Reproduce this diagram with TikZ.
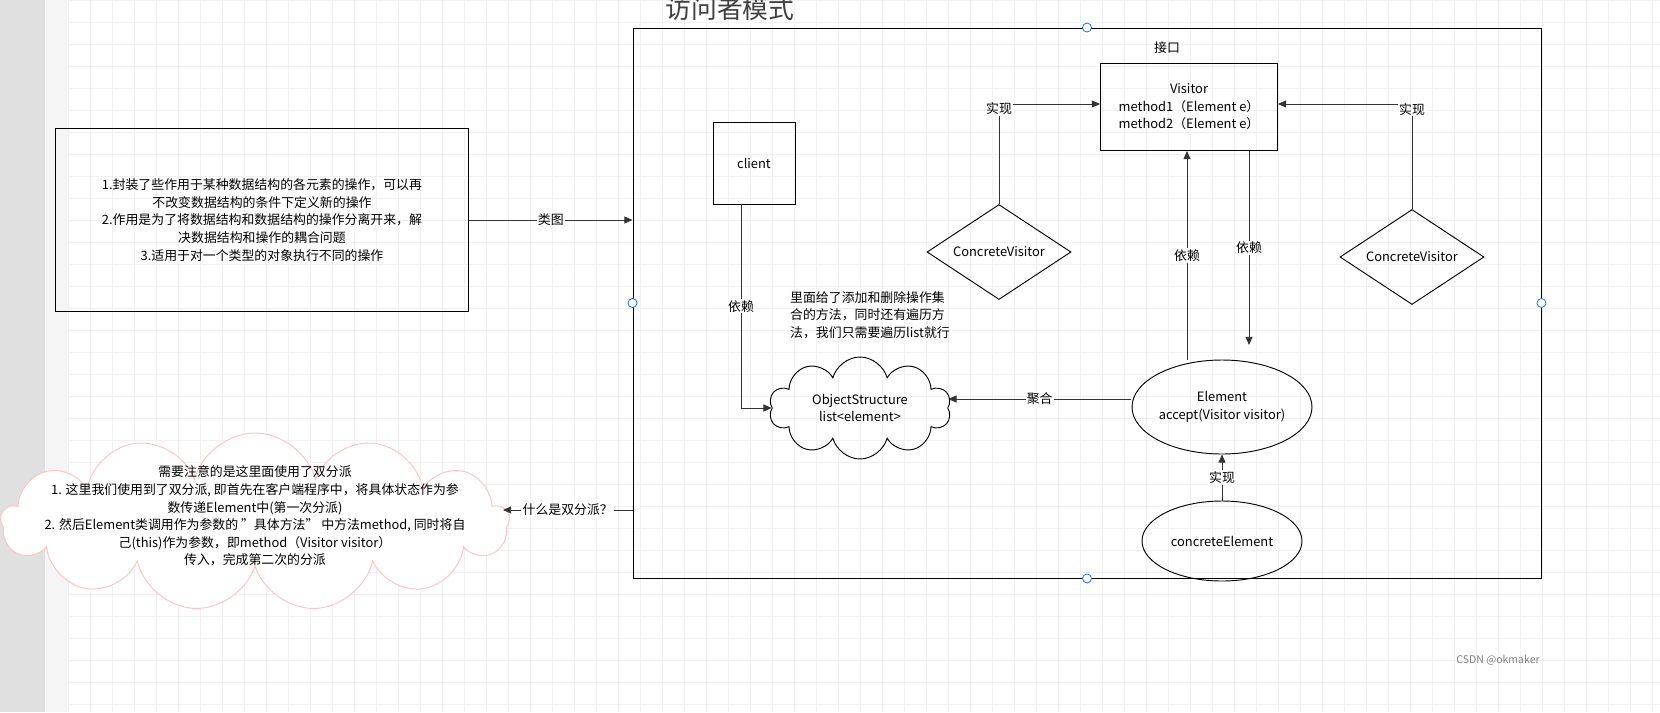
\documentclass[tikz,border=0pt]{standalone}
\usepackage{fontspec}
\setmainfont{Noto Sans CJK SC}
\usepackage{tikz}
\usetikzlibrary{arrows.meta}
\usetikzlibrary{shapes.geometric}
\usetikzlibrary{shapes.symbols}
\usetikzlibrary{positioning}
\usepackage{xcolor}

\begin{document}
\begin{tikzpicture}[x=0.015cm, y=-0.015cm, >={Triangle[length=3.5pt,width=3pt]}, font=\fontsize{5.5}{7.5}\selectfont, thick/.style={line width=0.4pt}]
\tikzset{box/.style = {draw=black, thick, rectangle, align=center, inner sep=0pt},
	diam/.style = {draw=black, thick, diamond, aspect=1.5, minimum width=144*0.015cm, minimum height=95*0.015cm, inner sep=0pt},
	elli/.style = {draw=black, thick, ellipse, align=center, inner sep=0pt},
	puff/.style = {cloud, cloud ignores aspect, thick, inner sep=0pt},
	lbl/.style = {fill=white, inner sep=0.5pt},
	dep/.style = {->, thick, draw=black!80}}

\fill[white] (0,0) rectangle (1660,712);
\foreach \gx in {68,90,...,1660} \draw[black!6, line width=0.2pt] (\gx,0) -- (\gx,712);
\foreach \gy in {0,22,...,712} \draw[black!6, line width=0.2pt] (68,\gy) -- (1660,\gy);
\fill[black!12] (0,0) rectangle (45,712);
\fill[black!4] (45,0) rectangle (68,712);
\node[font=\fontsize{11}{12}\selectfont, black!75] (T) at (730,9) {访问者模式};

\node[box, minimum width=908*0.015cm, minimum height=550*0.015cm] (S) at (1087,303) {};
\node[box, minimum width=413*0.015cm, minimum height=183*0.015cm] (L) at (262,220)
	{1.封装了些作用于某种数据结构的各元素的操作，可以再\\不改变数据结构的条件下定义新的操作\\2.作用是为了将数据结构和数据结构的操作分离开来，解\\决数据结构和操作的耦合问题\\3.适用于对一个类型的对象执行不同的操作};

\node[box, minimum width=177*0.015cm, minimum height=87*0.015cm, anchor=north] (V) at (1189,63)
	{Visitor\\method1（Element e）\\method2（Element e）};
\node (If) at (1167,48) {接口};
\node[box, minimum width=82*0.015cm, minimum height=82*0.015cm] (C) at (754,163) {client};
\node[diam] (CV1) at (999,252) {ConcreteVisitor};
\node[diam] (CV2) at (1412,257) {ConcreteVisitor};
\node[puff, draw=black, cloud puffs=10, minimum width=182*0.015cm, minimum height=102*0.015cm] (OS) at (860,408) {};
\node[align=center] (OSt) at (OS) {ObjectStructure\\list<element>};
\node[align=left] (N) at (870,315) {里面给了添加和删除操作集\\合的方法，同时还有遍历方\\法，我们只需要遍历list就行};
\node[elli, minimum width=180*0.015cm, minimum height=94*0.015cm] (E) at (1222,407) {Element\\accept(Visitor visitor)};
\node[elli, minimum width=160*0.015cm, minimum height=80*0.015cm] (CE) at (1222,541) {concreteElement};
\node[puff, draw=pink!80!red!60, fill=white, cloud puffs=13, minimum width=508*0.015cm, minimum height=178*0.015cm] (DD) at (255,522) {};
\node[align=center] (DDt) at (255,516)
	{需要注意的是这里面使用了双分派\\1. 这里我们使用到了双分派, 即首先在客户端程序中，将具体状态作为参\\数传递Element中(第一次分派)\\2. 然后Element类调用作为参数的 "具体方法" 中方法method, 同时将自\\己(this)作为参数，即method（Visitor visitor）\\传入，完成第二次的分派};

\coordinate (K1) at (999,104);
\coordinate (K2) at (1412,104);
\coordinate (K3) at (741,408);
\coordinate (K4) at (503,510);

\draw[dep] (L.east) -- node[lbl]{类图} (S.west |- L.east);
\draw[dep] (S.west |- K4) -- node[lbl]{什么是双分派？} (K4);
\draw[dep] (CV1.north) -- node[lbl, pos=0.95]{实现} (K1) -- (V.west |- K1);
\draw[dep] (CV2.north) -- node[lbl, pos=0.95]{实现} (K2) -- (V.east |- K2);
\draw[dep] (C.south -| K3) -- node[lbl]{依赖} (K3) -- (OS.west |- K3);
\draw[dep] (1187,360) -- node[lbl]{依赖} (1187,0 |- V.south);
\draw[dep] (1249,0 |- V.south) -- node[lbl]{依赖} (1249,345);
\draw[dep] (1131,399) -- node[lbl]{聚合} (OS.east |- 0,399);
\draw[dep] (CE.north) -- node[lbl]{实现} (E.south);

\foreach \p in {S.north, S.south, S.west, S.east}
	\draw[blue!60!cyan, fill=white, line width=0.3pt] (\p) circle (4.5);
\node[black!50, font=\fontsize{4.5}{5}\selectfont] (W) at (1498,660) {CSDN @okmaker};

\pgfresetboundingbox
\useasboundingbox (0,0) rectangle (1660,712);
\end{tikzpicture}
\end{document}
